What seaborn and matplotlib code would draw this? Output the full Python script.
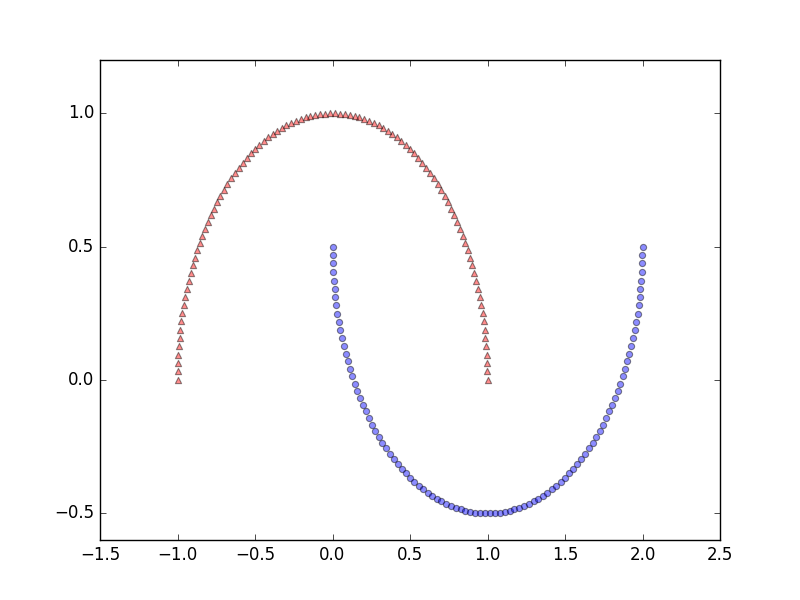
import matplotlib
matplotlib.use("Agg")
import matplotlib.pyplot as plt
import seaborn as sns
import pandas as pd

red_x = [1.000, 0.999, 0.998, 0.995, 0.992, 0.987, 0.982, 0.975, 0.968, 0.959,
         0.950, 0.940, 0.928, 0.916, 0.903, 0.889, 0.874, 0.858, 0.841, 0.824,
         0.805, 0.786, 0.766, 0.745, 0.724, 0.701, 0.679, 0.655, 0.631, 0.606,
         0.580, 0.554, 0.527, 0.500, 0.472, 0.444, 0.415, 0.386, 0.357, 0.327,
         0.297, 0.266, 0.236, 0.205, 0.174, 0.142, 0.111, 0.079, 0.048, 0.016,
         -0.016, -0.048, -0.079, -0.111, -0.142, -0.174, -0.205, -0.236, -0.266, -0.297,
         -0.327, -0.357, -0.386, -0.415, -0.444, -0.472, -0.500, -0.527, -0.554, -0.580,
         -0.606, -0.631, -0.655, -0.679, -0.701, -0.724, -0.745, -0.766, -0.786, -0.805,
         -0.824, -0.841, -0.858, -0.874, -0.889, -0.903, -0.916, -0.928, -0.940, -0.950,
         -0.959, -0.968, -0.975, -0.982, -0.987, -0.992, -0.995, -0.998, -0.999, -1.000]

red_y = [0.000, 0.032, 0.063, 0.095, 0.127, 0.158, 0.189, 0.220, 0.251, 0.282,
         0.312, 0.342, 0.372, 0.401, 0.430, 0.458, 0.486, 0.514, 0.541, 0.567,
         0.593, 0.618, 0.643, 0.667, 0.690, 0.713, 0.735, 0.756, 0.776, 0.796,
         0.815, 0.833, 0.850, 0.866, 0.881, 0.896, 0.910, 0.922, 0.934, 0.945,
         0.955, 0.964, 0.972, 0.979, 0.985, 0.990, 0.994, 0.997, 0.999, 1.000,
         1.000, 0.999, 0.997, 0.994, 0.990, 0.985, 0.979, 0.972, 0.964, 0.955,
         0.945, 0.934, 0.922, 0.910, 0.896, 0.881, 0.866, 0.850, 0.833, 0.815,
         0.796, 0.776, 0.756, 0.735, 0.713, 0.690, 0.667, 0.643, 0.618, 0.593,
         0.567, 0.541, 0.514, 0.486, 0.458, 0.430, 0.401, 0.372, 0.342, 0.312,
         0.282, 0.251, 0.220, 0.189, 0.158, 0.127, 0.095, 0.063, 0.032, 0.000]

blue_x = [0.000, 0.001, 0.002, 0.005, 0.008, 0.013, 0.018, 0.025, 0.032, 0.041,
          0.050, 0.060, 0.072, 0.084, 0.097, 0.111, 0.126, 0.142, 0.159, 0.176,
          0.195, 0.214, 0.234, 0.255, 0.276, 0.299, 0.321, 0.345, 0.369, 0.394,
          0.420, 0.446, 0.473, 0.500, 0.528, 0.556, 0.585, 0.614, 0.643, 0.673,
          0.703, 0.734, 0.764, 0.795, 0.826, 0.858, 0.889, 0.921, 0.952, 0.984,
          1.016, 1.048, 1.079, 1.111, 1.142, 1.174, 1.205, 1.236, 1.266, 1.297,
          1.327, 1.357, 1.386, 1.415, 1.444, 1.472, 1.500, 1.527, 1.554, 1.580,
          1.606, 1.631, 1.655, 1.679, 1.701, 1.724, 1.745, 1.766, 1.786, 1.805,
          1.824, 1.841, 1.858, 1.874, 1.889, 1.903, 1.916, 1.928, 1.940, 1.950,
          1.959, 1.968, 1.975, 1.982, 1.987, 1.992, 1.995, 1.998, 1.999, 2.000]

blue_y = [0.500, 0.468, 0.437, 0.405, 0.373, 0.342, 0.311, 0.280, 0.249, 0.218,
          0.188, 0.158, 0.128, 0.099, 0.070, 0.042, 0.014, -0.014, -0.041, -0.067,
          -0.093, -0.118, -0.143, -0.167, -0.190, -0.213, -0.235, -0.256, -0.276, -0.296,
          -0.315, -0.333, -0.350, -0.366, -0.381, -0.396, -0.410, -0.422, -0.434, -0.445,
          -0.455, -0.464, -0.472, -0.479, -0.485, -0.490, -0.494, -0.497, -0.499, -0.500,
          -0.500, -0.499, -0.497, -0.494, -0.490, -0.485, -0.479, -0.472, -0.464, -0.455,
          -0.445, -0.434, -0.422, -0.410, -0.396, -0.381, -0.366, -0.350, -0.333, -0.315,
          -0.296, -0.276, -0.256, -0.235, -0.213, -0.190, -0.167, -0.143, -0.118, -0.093,
          -0.067, -0.041, -0.014, 0.014, 0.042, 0.070, 0.099, 0.128, 0.158, 0.188,
          0.218, 0.249, 0.280, 0.311, 0.342, 0.373, 0.405, 0.437, 0.468, 0.500]

x_ticks = [-1.5, -1.0, -0.5, 0.0, 0.5, 1.0, 1.5, 2.0, 2.5]
y_ticks = [-0.5, 0.0, 0.5, 1.0]

plt.style.use("classic")
plt.rcParams["font.family"] = ["DejaVu Sans"]

red_df = pd.DataFrame({"x": red_x, "y": red_y})
blue_df = pd.DataFrame({"x": blue_x, "y": blue_y})

fig = plt.figure(figsize=(8, 6), dpi=100, facecolor="white")
ax = fig.add_axes([0.125, 0.1, 0.775, 0.8])

sns.scatterplot(data=red_df, x="x", y="y", ax=ax, marker="^", color="red",
                alpha=0.45, s=20, edgecolor="black", linewidth=0.8, legend=False)
sns.scatterplot(data=blue_df, x="x", y="y", ax=ax, marker="o", color="blue",
                alpha=0.45, s=20, edgecolor="black", linewidth=0.8, legend=False)

ax.set_xlim(-1.5, 2.5)
ax.set_ylim(-0.6, 1.2)
ax.set_xticks(x_ticks)
ax.set_yticks(y_ticks)
ax.set_xlabel("")
ax.set_ylabel("")
ax.tick_params(direction="in", top=True, right=True, labelsize=12)

fig.savefig("out.png", dpi=100, facecolor="white")
